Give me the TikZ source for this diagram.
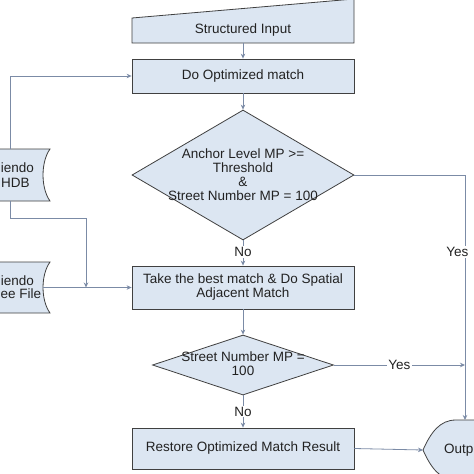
\documentclass[tikz,border=0pt]{standalone}
\usepackage{fontspec}
\setmainfont{Liberation Sans}
\usetikzlibrary{shapes.geometric,arrows.meta}
\definecolor{boxline}{HTML}{404040}
\definecolor{boxfill}{HTML}{DCE6F2}
\definecolor{connc}{HTML}{7B8BA6}
\definecolor{txt}{HTML}{222222}
\newcommand\fs{\fontsize{13.5}{14}\selectfont}
\tikzset{
  box/.style={draw=boxline, fill=boxfill, line width=0.8pt, minimum width=222pt, inner sep=0pt, text=txt, align=center, font=\fs},
  shp/.style={draw=boxline, fill=boxfill, line width=0.8pt},
  dia/.style={shape=diamond, draw=boxline, fill=boxfill, line width=0.8pt, inner sep=0pt},
  txtnode/.style={inner sep=0pt, text=txt, align=center, font=\fs},
  conn/.style={draw=connc, line width=0.8pt, -{Stealth[length=5pt,width=4.5pt]}},
  lbl/.style={fill=white, inner sep=1.2pt, text=txt, font=\fs}
}
\begin{document}
\begin{tikzpicture}[x=1pt,y=-1pt]
\useasboundingbox (0,0) rectangle (474,474);
\clip (0,0) rectangle (474,474);
\fill[white] (0,0) rectangle (474,474);
% Structured input (manual input shape)
\draw[shp] (132,18) -- (354,-1) -- (354,43) -- (132,43) -- cycle;
\node[txtnode, minimum width=222pt, minimum height=25pt] (inp) at (243,30.5) {Structured Input};
% Do optimized match
\node[box, minimum height=34pt] (opt) at (243,76) {Do Optimized match};
% Decision 1
\node[dia, minimum width=222pt, minimum height=130pt] (d1) at (243,175) {};
\node[txtnode] (d1t) at (243,174.5) {Anchor Level MP >=\\Threshold\\\&\\Street Number MP = 100};
% Take best match
\node[box, minimum height=43pt] (take) at (243,287.5) {Take the best match \& Do Spatial\\Adjacent Match};
% Decision 2
\node[dia, minimum width=181pt, minimum height=60pt] (d2) at (243,365) {};
\node[txtnode] (d2t) at (243,363.5) {Street Number MP =\\100};
% Restore
\node[box, minimum height=41pt] (rest) at (243,448.5) {Restore Optimized Match Result};
% Output (display shape)
\draw[shp] (423,450) .. controls (431,432) and (440,420) .. (456,420) -- (490,420) -- (490,480) -- (456,480) .. controls (440,480) and (431,468) .. (423,450) -- cycle;
\coordinate (outW) at (423,450);
\coordinate (outN) at (465,420);
\node[txtnode, anchor=west] (outt) at (444,450) {Outp};
% Stored data shapes (left)
\draw[shp] (-10,149) -- (50,149) .. controls (40.7,162) and (40.7,188) .. (50,201) -- (-10,201) -- cycle;
\coordinate (hdbN) at (10,149);
\coordinate (hdbS) at (10,201);
\node[txtnode, anchor=east] (hdbt1) at (34,168) {iendo};
\node[txtnode, anchor=west] (hdbt2) at (1,182.5) {HDB};
\draw[shp] (-10,262) -- (50,262) .. controls (40.7,275) and (40.7,300) .. (50,313) -- (-10,313) -- cycle;
\coordinate (treeE) at (43,287.5);
\node[txtnode, anchor=east] (treet1) at (34,280.5) {iendo};
\node[txtnode, anchor=west] (treet2) at (0.5,294) {ee File};
% Connectors
\draw[conn] (inp.south) -- (opt.north);
\draw[conn] (opt.south) -- (d1.north);
\draw[conn] (d1.south) -- node[lbl, pos=0.45] (no1) {No} (take.north);
\draw[conn] (take.south) -- (d2.north);
\draw[conn] (d2.south) -- node[lbl, pos=0.5] (no2) {No} (rest.north);
\draw[conn] (rest.east) -- (outW);
\draw[conn] (d1.east) -- (465,175) -- (outN);
\node[lbl, anchor=west] (yes1) at (445,252) {Yes};
\draw[conn] (d2.east) -- node[lbl, pos=0.5] (yes2) {Yes} (d2.east -| outN);
\draw[conn] (hdbN) -- (10,76) -- (opt.west);
\draw[conn] (hdbS) -- (10,218) -- (86,218) -- (86,287.5);
\draw[conn] (treeE) -- (take.west);
\end{tikzpicture}
\end{document}
